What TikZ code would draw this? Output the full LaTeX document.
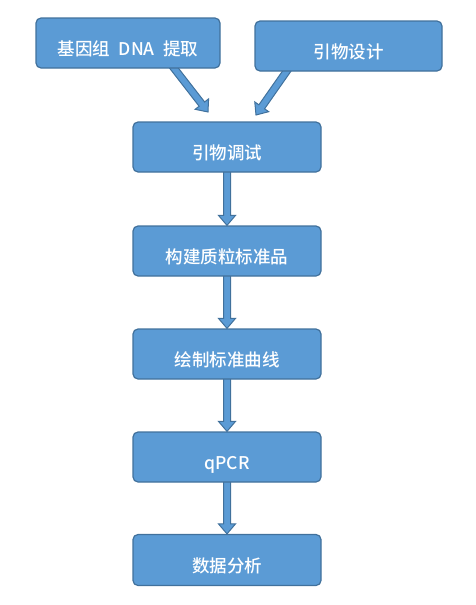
\documentclass[tikz,border=0pt]{standalone}
\usepackage{fontspec}
\setmainfont{Noto Sans CJK SC}[BoldFont={Noto Sans CJK SC Medium}]
\usetikzlibrary{calc}
\definecolor{boxfill}{HTML}{5B9BD5}
\definecolor{boxline}{HTML}{41719C}
\pgfdeclarelayer{background}
\pgfsetlayers{background,main}
\tikzset{
  stepbox/.style={draw=boxline, fill=boxfill, line width=1.2pt, rounded corners=5pt,
    text=white, font=\fontsize{17.5}{19}\selectfont\bfseries, inner sep=0pt,
    minimum height=50pt, text height=27pt, text depth=1.5pt},
  blockarrow/.style={draw=boxline, fill=boxfill, line width=1pt, line join=miter}
}
\newcommand{\blockarr}[2]{%
  \coordinate (ba-h) at ($(#2)!10pt!(#1)$);
  \draw[blockarrow] ($(#1)!3.5pt!90:(#2)$) -- ($(ba-h)!3.5pt!90:(#2)$) -- ($(ba-h)!8.5pt!90:(#2)$) -- (#2)
    -- ($(ba-h)!8.5pt!-90:(#2)$) -- ($(ba-h)!3.5pt!-90:(#2)$) -- ($(#1)!3.5pt!-90:(#2)$) -- cycle;}
\begin{document}
\begin{tikzpicture}[x=1pt,y=-1pt]
\useasboundingbox (0,0) rectangle (476,605);
\path (128,43) node[stepbox, minimum width=184pt] (gen) {基因组\hspace{0.5em}DNA\hspace{0.5em}提取};
\path (348.5,46) node[stepbox, minimum width=187pt] (des) {引物设计};
\path (227,147) node[stepbox, minimum width=188pt] (tst) {引物调试};
\path (227,251) node[stepbox, minimum width=188pt] (pla) {构建质粒标准品};
\path (227,354) node[stepbox, minimum width=188pt] (cur) {绘制标准曲线};
\path (227,457) node[stepbox, minimum width=188pt] (qpc) {qPCR};
\path (227,560) node[stepbox, minimum width=188pt, minimum height=51pt] (ana) {数据分析};
\begin{pgfonlayer}{background}
\coordinate (a1s) at ([xshift=44pt,yshift=3pt]gen.south);
\coordinate (a1e) at (208,112);
\coordinate (a2s) at ([xshift=-60pt,yshift=3pt]des.south);
\coordinate (a2e) at (256,115);
\coordinate (v1s) at ([yshift=2pt]tst.south);
\coordinate (v2s) at ([yshift=2pt]pla.south);
\coordinate (v3s) at ([yshift=2pt]cur.south);
\coordinate (v4s) at ([yshift=2pt]qpc.south);
\blockarr{a1s}{a1e}
\blockarr{a2s}{a2e}
\blockarr{v1s}{pla.north}
\blockarr{v2s}{cur.north}
\blockarr{v3s}{qpc.north}
\blockarr{v4s}{ana.north}
\end{pgfonlayer}
\end{tikzpicture}
\end{document}
